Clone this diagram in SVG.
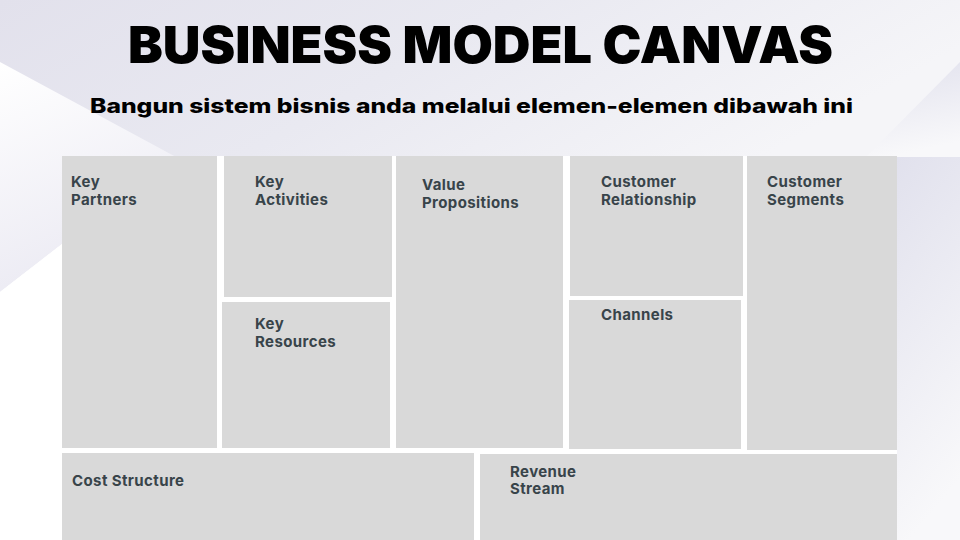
<svg xmlns="http://www.w3.org/2000/svg" width="960" height="540" viewBox="0 0 960 540">
  <defs>
    <linearGradient id="bgTop" x1="0" y1="0" x2="1" y2="0.3">
      <stop offset="0" stop-color="#e2e1ec"/>
      <stop offset="0.5" stop-color="#e9e9f1"/>
      <stop offset="1" stop-color="#f5f5f8"/>
    </linearGradient>
    <linearGradient id="wedge" x1="0" y1="0" x2="0.3" y2="1">
      <stop offset="0" stop-color="#ffffff"/>
      <stop offset="1" stop-color="#ebeaf3"/>
    </linearGradient>
    <linearGradient id="rightTri" x1="0" y1="0" x2="0.2" y2="1">
      <stop offset="0" stop-color="#e1e1ed"/>
      <stop offset="1" stop-color="#f8f8fa"/>
    </linearGradient>
    <style>
      .box { fill: #d9d9d9; }
      .lbl { font-family: Inter, "Liberation Sans", sans-serif; font-weight: 700; font-size: 15px; letter-spacing: 0.4px; fill: #38444a; }
      .title { font-family: Inter, "Liberation Sans", sans-serif; font-weight: 900; font-size: 51px; fill: #000000; }
      .sub { font-family: Inter, "Liberation Sans", sans-serif; font-weight: 800; font-size: 20px; fill: #000000; }
    </style>
  </defs>

  <!-- background -->
  <rect x="0" y="0" width="960" height="540" fill="#ffffff"/>
  <rect x="0" y="0" width="960" height="160" fill="url(#bgTop)"/>
  <polygon points="0,62 176,157 62,244 0,292" fill="url(#wedge)"/>
  <polygon points="0,292 62,244 62,540 0,540" fill="#ffffff"/>
  <polygon points="960,62 866,157 960,157" fill="url(#rightTri)"/>
  <polygon points="897,157 960,157 960,540 897,540" fill="url(#rightTri)"/>

  <text class="title" x="480.5" y="63" text-anchor="middle" textLength="705" lengthAdjust="spacingAndGlyphs">BUSINESS MODEL CANVAS</text>
  <text class="sub" x="471.5" y="112.5" text-anchor="middle" textLength="763" lengthAdjust="spacingAndGlyphs">Bangun sistem bisnis anda melalui elemen-elemen dibawah ini</text>

  <rect x="62" y="156" width="835" height="384" fill="#ffffff"/>

  <g id="key-partners">
    <rect class="box" x="62" y="156" width="155" height="292"/>
    <text class="lbl" x="71" y="187">Key</text>
    <text class="lbl" x="71" y="204.5">Partners</text>
  </g>
  <g id="key-activities">
    <rect class="box" x="224" y="156" width="168" height="141"/>
    <text class="lbl" x="255" y="187">Key</text>
    <text class="lbl" x="255" y="204.5">Activities</text>
  </g>
  <g id="key-resources">
    <rect class="box" x="222" y="302" width="168" height="146"/>
    <text class="lbl" x="255" y="329">Key</text>
    <text class="lbl" x="255" y="346.5">Resources</text>
  </g>
  <g id="value-propositions">
    <rect class="box" x="396" y="156" width="167" height="292"/>
    <text class="lbl" x="422" y="190">Value</text>
    <text class="lbl" x="422" y="207.5">Propositions</text>
  </g>
  <g id="customer-relationship">
    <rect class="box" x="570" y="156" width="173" height="140"/>
    <text class="lbl" x="601" y="187">Customer</text>
    <text class="lbl" x="601" y="204.5">Relationship</text>
  </g>
  <g id="channels">
    <rect class="box" x="569" y="300" width="172" height="149"/>
    <text class="lbl" x="601" y="320">Channels</text>
  </g>
  <g id="customer-segments">
    <rect class="box" x="747" y="156" width="150" height="294"/>
    <text class="lbl" x="767" y="187">Customer</text>
    <text class="lbl" x="767" y="204.5">Segments</text>
  </g>
  <g id="cost-structure">
    <rect class="box" x="62" y="453" width="412" height="87"/>
    <text class="lbl" x="72" y="486">Cost Structure</text>
  </g>
  <g id="revenue-stream">
    <rect class="box" x="480" y="454" width="417" height="86"/>
    <text class="lbl" x="510" y="476.5">Revenue</text>
    <text class="lbl" x="510" y="494">Stream</text>
  </g>

  <g id="connectors"></g>
</svg>
